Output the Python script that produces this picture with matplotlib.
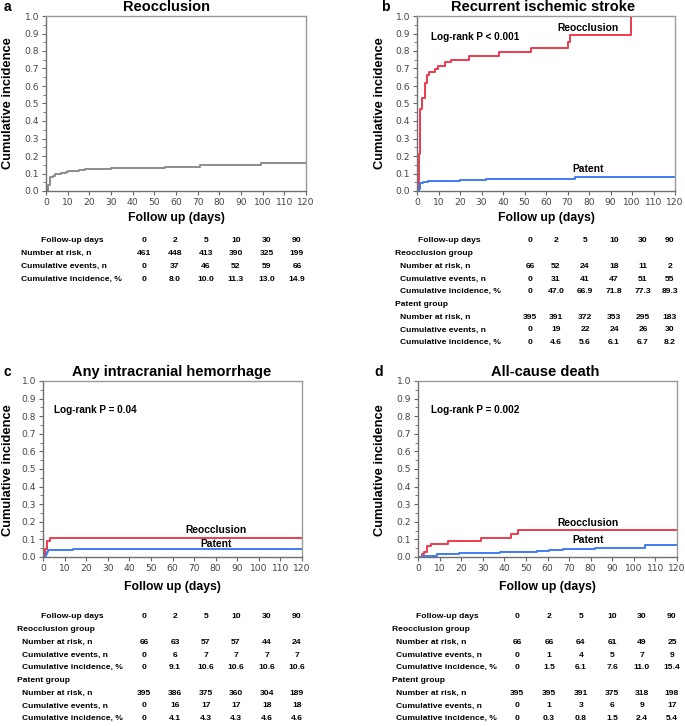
import numpy as np
import matplotlib
matplotlib.use("Agg")
import matplotlib.pyplot as plt
from matplotlib.ticker import MultipleLocator

plt.rcParams['font.family'] = ['Liberation Sans', 'DejaVu Sans']

W, H = 685, 726
RED = '#ee3a4f'
BLUE = '#3f7df0'
GRAY = '#8c8c8c'

# ---- curve data (day, cumulative incidence) ----
a_t = [0, 0.8, 1.8, 3, 4, 5, 7, 9, 10, 12, 15, 18, 22, 30, 40, 55, 60, 71, 99, 120]
a_y = [0, 0.035, 0.080, 0.088, 0.095, 0.100, 0.103, 0.108, 0.113, 0.116, 0.120,
       0.124, 0.127, 0.130, 0.133, 0.136, 0.140, 0.149, 0.160, 0.160]

b_red_t = [0, 0.8, 1.5, 2.5, 3.5, 4.5, 5.4, 8.5, 9.6, 13, 15.8, 24, 38, 53, 70, 71, 99.5, 99.5]
b_red_y = [0, 0.21, 0.47, 0.53, 0.62, 0.665, 0.68, 0.70, 0.715, 0.735, 0.75, 0.77,
           0.795, 0.82, 0.85, 0.89, 1.0, 1.0]
b_blue_t = [0, 1.0, 1.4, 3, 5, 7, 20, 32, 73.5, 120]
b_blue_y = [0, 0.01, 0.045, 0.05, 0.055, 0.06, 0.065, 0.07, 0.08, 0.08]

c_red_t = [0, 1.0, 2.0, 3.2, 120]
c_red_y = [0, 0.045, 0.091, 0.106, 0.106]
c_blue_t = [0, 1.3, 1.8, 2.5, 14, 120]
c_blue_y = [0, 0.015, 0.03, 0.041, 0.046, 0.046]

d_red_t = [0, 1.8, 3, 4, 6, 14, 29, 43, 46.5, 120]
d_red_y = [0, 0.015, 0.03, 0.06, 0.076, 0.09, 0.11, 0.13, 0.154, 0.154]
d_blue_t = [0, 2, 4.5, 9, 13.5, 19, 29, 38, 49, 55, 60.5, 67, 72, 82, 105, 120]
d_blue_y = [0, 0.003, 0.008, 0.015, 0.018, 0.020, 0.024, 0.026, 0.028, 0.036,
            0.040, 0.044, 0.048, 0.052, 0.070, 0.070]

# ---- tables ----
days = ['0', '2', '5', '10', '30', '90']
a_rows = [('Number at risk, n', ['461', '448', '413', '390', '325', '199']),
          ('Cumulative events, n', ['0', '37', '46', '52', '59', '66']),
          ('Cumulative incidence, %', ['0', '8.0', '10.0', '11.3', '13.0', '14.9'])]
b_reo = [('Number at risk, n', ['66', '52', '24', '18', '11', '2']),
         ('Cumulative events, n', ['0', '31', '41', '47', '51', '55']),
         ('Cumulative incidence, %', ['0', '47.0', '66.9', '71.8', '77.3', '89.3'])]
b_pat = [('Number at risk, n', ['395', '391', '372', '353', '295', '183']),
         ('Cumulative events, n', ['0', '19', '22', '24', '26', '30']),
         ('Cumulative incidence, %', ['0', '4.6', '5.6', '6.1', '6.7', '8.2'])]
c_reo = [('Number at risk, n', ['66', '63', '57', '57', '44', '24']),
         ('Cumulative events, n', ['0', '6', '7', '7', '7', '7']),
         ('Cumulative incidence, %', ['0', '9.1', '10.6', '10.6', '10.6', '10.6'])]
c_pat = [('Number at risk, n', ['395', '386', '375', '360', '304', '189']),
         ('Cumulative events, n', ['0', '16', '17', '17', '18', '18']),
         ('Cumulative incidence, %', ['0', '4.1', '4.3', '4.3', '4.6', '4.6'])]
d_reo = [('Number at risk, n', ['66', '66', '64', '61', '49', '25']),
         ('Cumulative events, n', ['0', '1', '4', '5', '7', '9']),
         ('Cumulative incidence, %', ['0', '1.5', '6.1', '7.6', '11.0', '15.4'])]
d_pat = [('Number at risk, n', ['395', '395', '391', '375', '318', '198']),
         ('Cumulative events, n', ['0', '1', '3', '6', '9', '17']),
         ('Cumulative incidence, %', ['0', '0.3', '0.8', '1.5', '2.4', '5.4'])]

fig = plt.figure(figsize=(W / 100, H / 100), dpi=100)


def fx(px):
    return px / W


def fy(py):
    return 1 - py / H


def txt(x, y, s, **kw):
    kw.setdefault('fontweight', 'bold')
    kw.setdefault('va', 'center')
    fig.text(fx(x), fy(y), s, **kw)


def make_axes(l, r, t, b):
    ax = fig.add_axes([fx(l), fy(b), (r - l) / W, (b - t) / H])
    ax.set_xlim(0, 120)
    ax.set_ylim(0, 1)
    ax.xaxis.set_major_locator(MultipleLocator(10))
    ax.yaxis.set_major_locator(MultipleLocator(0.1))
    ax.yaxis.set_minor_locator(MultipleLocator(0.05))
    ax.yaxis.set_major_formatter(plt.FormatStrFormatter('%.1f'))
    ax.tick_params(which='both', direction='out', colors='#666666', labelcolor='#444444',
                   labelsize=6.6, pad=2)
    ax.tick_params(which='major', length=3, width=0.8)
    ax.tick_params(which='minor', length=2, width=0.6)
    for lab in ax.get_xticklabels() + ax.get_yticklabels():
        lab.set_family('DejaVu Sans')
    for side in ['left', 'bottom']:
        ax.spines[side].set_color('#707070')
        ax.spines[side].set_linewidth(1.0)
    for side in ['top', 'right']:
        ax.spines[side].set_color('#9a9a9a')
        ax.spines[side].set_linewidth(1.0)
    return ax


def decorate(ax, letter, lx, ly, title, tx, ylx, ycy, xl_y):
    txt(lx, ly, letter, fontsize=10, ha='left')
    txt(tx, ly, title, fontsize=10.5, ha='center')
    txt(ylx, ycy, 'Cumulative incidence', fontsize=9.3, ha='center', rotation=90)
    pos = ax.get_position()
    txt((pos.x0 + pos.x1) / 2 * W, xl_y, 'Follow up (days)', fontsize=8.8, ha='center')


def table(cols, label_x, y0, groups, header_x):
    txt(header_x, y0, 'Follow-up days', fontsize=6.1, ha='center')
    for c, d in zip(cols, days):
        txt(c, y0, d, fontsize=6.1, ha='center')
    y = y0 + 12.7
    for gname, rows in groups:
        if gname:
            txt(label_x, y, gname, fontsize=6.1, ha='left')
            y += 12.7
            rx = label_x + 4.5
        else:
            rx = label_x
        for name, vals in rows:
            txt(rx, y, name, fontsize=6.1, ha='left')
            for c, v in zip(cols, vals):
                txt(c, y, v, fontsize=6.1, ha='center')
            y += 12.7


# ---- panel a ----
ax = make_axes(46, 306, 16, 191)
ax.step(a_t, a_y, where='post', color=GRAY, lw=1.4)
decorate(ax, 'a', 4, 7, 'Reocclusion', 166, 8, 103, 218)
table([144, 175, 206, 236, 267, 297], 21, 241, [(None, a_rows)], 72)

# ---- panel b ----
ax = make_axes(417, 675, 16, 191)
ax.step(b_red_t, b_red_y, where='post', color=RED, lw=1.4)
ax.step(b_blue_t, b_blue_y, where='post', color=BLUE, lw=1.4)
decorate(ax, 'b', 381, 7, 'Recurrent ischemic stroke', 543, 380, 103, 218)
txt(431, 37, 'Log-rank P < 0.001', fontsize=7.2, ha='left')
txt(588, 28, 'Reocclusion', fontsize=7.4, ha='center')
txt(588, 169, 'Patent', fontsize=7.4, ha='center')
table([530, 556, 585, 614, 643, 670], 395, 241,
      [('Reocclusion group', b_reo), ('Patent group', b_pat)], 449)

# ---- panel c ----
ax = make_axes(43, 302, 381, 557)
ax.step(c_red_t, c_red_y, where='post', color=RED, lw=1.4)
ax.step(c_blue_t, c_blue_y, where='post', color=BLUE, lw=1.4)
decorate(ax, 'c', 4, 372, 'Any intracranial hemorrhage', 172, 8, 470, 587)
txt(54, 410, 'Log-rank P = 0.04', fontsize=7.2, ha='left')
txt(216, 530, 'Reocclusion', fontsize=7.4, ha='center')
txt(216, 544, 'Patent', fontsize=7.4, ha='center')
table([144, 175, 206, 236, 267, 297], 17, 617,
      [('Reocclusion group', c_reo), ('Patent group', c_pat)], 72)

# ---- panel d ----
ax = make_axes(418, 677, 381, 557)
ax.step(d_red_t, d_red_y, where='post', color=RED, lw=1.4)
ax.step(d_blue_t, d_blue_y, where='post', color=BLUE, lw=1.4)
decorate(ax, 'd', 374, 372, 'All-cause death', 545, 380, 470, 587)
txt(431, 410, 'Log-rank P = 0.002', fontsize=7.2, ha='left')
txt(588, 523, 'Reocclusion', fontsize=7.4, ha='center')
txt(588, 540, 'Patent', fontsize=7.4, ha='center')
table([517, 549, 581, 612, 642, 672], 392, 617,
      [('Reocclusion group', d_reo), ('Patent group', d_pat)], 447)

fig.savefig('out.png', dpi=100)
